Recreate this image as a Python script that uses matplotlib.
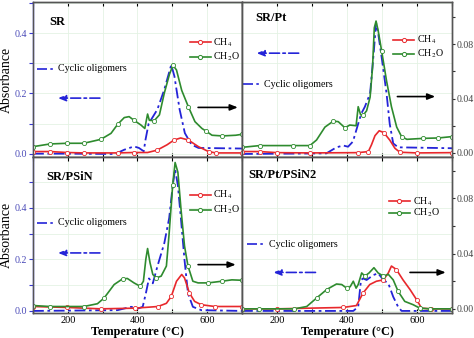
"""
Evolved-gas absorbance vs temperature for four resin samples (2x2 panels).
Cyclic oligomers on the left axis, CH4 / CH2O on the right axis.
"""
import matplotlib
matplotlib.use("Agg")
import matplotlib.pyplot as plt
import numpy as np
from matplotlib.ticker import MultipleLocator, FormatStrFormatter

plt.rcParams["font.family"] = ["Liberation Serif", "DejaVu Serif"]
plt.rcParams["mathtext.fontset"] = "stix"

# ---- data -------------------------------------------------------------
# SR
sr_olig_t = [100, 200, 336, 362, 390, 404, 418, 423, 432, 457, 477, 497, 506, 521, 536, 555, 575, 700]
sr_olig = [0.001, 0.001, 0.0, 0.014, 0.025, 0.020, 0.009, 0.047, 0.100, 0.147, 0.213, 0.295, 0.257, 0.147, 0.069, 0.031, 0.020, 0.018]
sr_ch4_t = [100, 150, 198, 246, 343, 390, 429, 456, 485, 505, 524, 546, 575, 604, 624, 700]
sr_ch4 = [0.001, 0.001, 0.0003, 0.0, 0.0, 0.0003, 0.0003, 0.002, 0.006, 0.0095, 0.011, 0.0095, 0.0046, 0.001, 0.0, 0.0]
sr_ch2o_t = [100, 149, 198, 246, 295, 324, 343, 362, 376, 390, 410, 421, 429, 434, 448, 463, 477, 492,
             502, 512, 527, 546, 565, 585, 597, 614, 643, 682, 700]
sr_ch2o = [0.0046, 0.0066, 0.0071, 0.0071, 0.010, 0.0144, 0.021, 0.026, 0.0267, 0.024, 0.0205, 0.018, 0.0286,
           0.024, 0.0237, 0.028, 0.044, 0.058, 0.0645, 0.061, 0.046, 0.034, 0.023, 0.018, 0.016, 0.013,
           0.0125, 0.013, 0.0137]

# SR/Pt
pt_olig_t = [100, 341, 370, 389, 403, 417, 432, 441, 451, 466, 477, 483, 489, 499, 513, 522, 532, 546, 700]
pt_olig = [0.0, 0.002, 0.022, 0.028, 0.024, 0.041, 0.100, 0.134, 0.156, 0.200, 0.344, 0.434, 0.400, 0.320,
           0.200, 0.100, 0.035, 0.022, 0.019]
pt_ch4_t = [100, 151, 200, 294, 432, 461, 470, 480, 492, 505, 522, 537, 551, 600, 700]
pt_ch4 = [0.001, 0.001, 0.0002, 0.0, 0.0002, 0.001, 0.006, 0.0127, 0.0163, 0.015, 0.0095, 0.0034, 0.0005, 0.0, 0.0002]
pt_ch2o_t = [100, 151, 247, 294, 313, 337, 361, 375, 394, 408, 426, 432, 439, 447, 456, 466, 473, 478,
             483, 489, 499, 513, 527, 542, 556, 571, 618, 661, 700]
pt_ch2o = [0.0041, 0.0054, 0.0054, 0.0054, 0.0095, 0.019, 0.0234, 0.023, 0.0185, 0.0205, 0.020, 0.034,
           0.028, 0.028, 0.031, 0.041, 0.063, 0.092, 0.097, 0.090, 0.075, 0.053, 0.034, 0.019, 0.012,
           0.010, 0.0107, 0.011, 0.012]

# SR/PSiN
psin_olig_t = [100, 343, 382, 401, 415, 424, 433, 444, 457, 477, 491, 501, 508, 516, 525, 535, 545, 559, 583, 700]
psin_olig = [0.0, 0.003, 0.016, 0.009, 0.016, 0.068, 0.126, 0.107, 0.172, 0.263, 0.360, 0.484, 0.550,
             0.486, 0.354, 0.198, 0.068, 0.016, 0.003, 0.0]
psin_ch4_t = [100, 198, 295, 393, 459, 483, 497, 512, 527, 535, 549, 564, 583, 622, 700]
psin_ch4 = [0.0017, 0.001, 0.0, 0.0005, 0.0017, 0.004, 0.009, 0.020, 0.0249, 0.0224, 0.0115, 0.0054,
            0.003, 0.0017, 0.0017]
psin_ch2o_t = [100, 149, 246, 285, 304, 333, 357, 371, 390, 408, 417, 424, 429, 436, 444, 454, 468, 483,
               491, 501, 508, 516, 525, 535, 545, 559, 574, 603, 642, 671, 700]
psin_ch2o = [0.0024, 0.0017, 0.0017, 0.0037, 0.0078, 0.0176, 0.0217, 0.022, 0.0188, 0.0163, 0.020, 0.036,
             0.0437, 0.0334, 0.0249, 0.0224, 0.0237, 0.031, 0.055, 0.0895, 0.106, 0.099, 0.072, 0.0456,
             0.031, 0.020, 0.0188, 0.0188, 0.020, 0.021, 0.0207]

# SR/Pt/PSiN2
n2_olig_t = [100, 418, 432, 440, 446, 456, 475, 489, 504, 518, 532, 546, 556, 700]
n2_olig = [0.0, 0.0, 0.016, 0.120, 0.126, 0.120, 0.139, 0.146, 0.120, 0.107, 0.055, 0.016, 0.0, 0.0]
n2_ch4_t = [100, 200, 389, 427, 446, 465, 484, 504, 518, 527, 541, 560, 580, 599, 613, 640, 700]
n2_ch4 = [0.0, 0.0, 0.001, 0.0024, 0.0115, 0.0176, 0.020, 0.021, 0.026, 0.031, 0.0285, 0.021, 0.014,
          0.0066, 0.0005, 0.0, 0.0]
n2_ch2o_t = [100, 150, 250, 285, 313, 342, 370, 385, 399, 409, 418, 426, 432, 442, 451, 463, 477, 489,
             504, 518, 532, 546, 565, 589, 608, 637, 700]
n2_ch2o = [0.0, 0.0, 0.0, 0.0017, 0.0078, 0.014, 0.018, 0.0176, 0.015, 0.016, 0.020, 0.015, 0.0176, 0.026,
           0.0237, 0.026, 0.0298, 0.026, 0.0237, 0.025, 0.021, 0.0127, 0.0054, 0.003, 0.0005, 0.0, 0.0]

panel_names = ["SR", "SR/Pt", "SR/PSiN", "SR/Pt/PSiN2"]

# ---- styles -----------------------------------------------------------
BLUE = "#2424d8"
RED = "#e8282c"
GREEN = "#2e8b2e"
AXBLUE = "#3a3ad0"
GRID = "#e4f2e4"
DASHDOT = (0, (6, 2, 1.5, 2))

# axes boxes in figure fraction
LEFT_X, MID_X, RIGHT_X = 0.0696, 0.5105, 0.9536
TOP_Y, MID_Y, BOT_Y = 0.994, 0.5355, 0.074

# per panel: title pos, CH4/CH2O key pos, oligomer key pos, blue arrow, black arrow
layout = [
    dict(title=(0.08, 0.87), key=(0.75, 0.74, 0.645), olig=(0.02, 0.57),
         barrow=(0.32, 0.12, 0.38), karrow=(0.79, 0.98, 0.32)),
    dict(title=(0.065, 0.895), key=(0.72, 0.755, 0.665), olig=(0.005, 0.47),
         barrow=(0.27, 0.07, 0.67), karrow=(0.74, 0.92, 0.39)),
    dict(title=(0.065, 0.87), key=(0.75, 0.756, 0.66), olig=(0.02, 0.58),
         barrow=(0.32, 0.12, 0.385), karrow=(0.79, 0.97, 0.31)),
    dict(title=(0.03, 0.885), key=(0.70, 0.715, 0.64), olig=(0.025, 0.44),
         barrow=(0.35, 0.15, 0.26), karrow=(0.80, 0.97, 0.26)),
]

series = [
    (sr_olig_t, sr_olig, sr_ch4_t, sr_ch4, sr_ch2o_t, sr_ch2o),
    (pt_olig_t, pt_olig, pt_ch4_t, pt_ch4, pt_ch2o_t, pt_ch2o),
    (psin_olig_t, psin_olig, psin_ch4_t, psin_ch4, psin_ch2o_t, psin_ch2o),
    (n2_olig_t, n2_olig, n2_ch4_t, n2_ch4, n2_ch2o_t, n2_ch2o),
]

left_ylim = [(-0.01, 0.5025), (-0.008, 0.597)]
right_ylim = [(-0.003, 0.111), (-0.003, 0.11)]


def every_50(t):
    """Indices of the samples nearest to each 50 degC step (marker positions)."""
    t = np.asarray(t)
    return sorted({int(np.abs(t - g).argmin()) for g in range(100, 701, 50)})


def key_entry(ax, x0, x1, y, label, color, ls="-", marker=None):
    ax.plot([x0, x1], [y, y], transform=ax.transAxes, color=color, lw=1.2, ls=ls, clip_on=False)
    if marker:
        ax.plot([(x0 + x1) / 2], [y], transform=ax.transAxes, marker=marker, ms=3,
                mfc="white", mec=color, mew=0.7, clip_on=False)
    ax.text(x1 + 0.012, y, label, transform=ax.transAxes, fontsize=7.2, va="center", ha="left")


def arrow(ax, x_tail, x_head, y, color, dashed=False):
    ax.annotate("", xy=(x_head, y), xytext=(x_tail, y), xycoords="axes fraction",
                arrowprops=dict(arrowstyle="-|>,head_length=0.45,head_width=0.18", color=color,
                                lw=1.2, ls=DASHDOT if dashed else "-", shrinkA=0, shrinkB=0))


fig = plt.figure(figsize=(4.74, 3.38), dpi=100)

boxes = [
    [LEFT_X, MID_Y, MID_X - LEFT_X, TOP_Y - MID_Y],
    [MID_X, MID_Y, RIGHT_X - MID_X, TOP_Y - MID_Y],
    [LEFT_X, BOT_Y, MID_X - LEFT_X, MID_Y - BOT_Y],
    [MID_X, BOT_Y, RIGHT_X - MID_X, MID_Y - BOT_Y],
]

for i, (box, name, lay, data) in enumerate(zip(boxes, panel_names, layout, series)):
    row, col = divmod(i, 2)
    ot, ov, mt, mv, ft, fv = data

    ax = fig.add_axes(box)
    ax2 = ax.twinx()

    ax.plot(ot, ov, color=BLUE, lw=1.3, ls=DASHDOT)
    ax2.plot(mt, mv, color=RED, lw=1.2, marker="o", ms=3, mfc="white", mec=RED, mew=0.6,
             markevery=every_50(mt))
    ax2.plot(ft, fv, color=GREEN, lw=1.2, marker="o", ms=3, mfc="white", mec=GREEN, mew=0.6,
             markevery=every_50(ft))

    ax.set_xlim(100, 700)
    ax.set_ylim(*left_ylim[row])
    ax2.set_ylim(*right_ylim[row])

    ax.xaxis.set_major_locator(MultipleLocator(200))
    ax.xaxis.set_minor_locator(MultipleLocator(100))
    ax.yaxis.set_major_locator(MultipleLocator(0.2))
    ax.yaxis.set_minor_locator(MultipleLocator(0.1))
    ax.yaxis.set_major_formatter(FormatStrFormatter("%.1f"))
    ax2.yaxis.set_major_locator(MultipleLocator(0.04))
    ax2.yaxis.set_minor_locator(MultipleLocator(0.02))
    ax2.yaxis.set_major_formatter(FormatStrFormatter("%.2f"))

    ax.grid(True, which="both", color=GRID, lw=0.6)
    ax.set_axisbelow(True)

    ax.tick_params(axis="x", which="both", direction="in", top=True, bottom=True,
                   length=3, width=0.8, labelsize=7.5, pad=2,
                   labelbottom=(row == 1))
    for a in (ax, ax2):
        for s in a.spines.values():
            s.set_color("#555555")
            s.set_linewidth(1.0)

    if col == 0:
        ax.spines["left"].set_color(AXBLUE)
        ax.tick_params(axis="y", which="both", direction="out", length=3, width=0.8,
                       colors=AXBLUE, labelcolor="#4a4ab8", labelsize=7.2, pad=1)
        ax2.tick_params(axis="y", which="both", right=False, labelright=False)
        ax.set_ylabel("Absorbance", fontsize=10, labelpad=1.5)
    else:
        ax.tick_params(axis="y", which="both", left=False, labelleft=False)
        ax2.tick_params(axis="y", which="both", direction="out", length=2.5, width=0.8,
                        colors="#333333", labelcolor="#444444", labelsize=7, pad=1)

    if row == 1:
        ax.set_xlabel("Temperature (°C)", fontsize=8.8, fontweight="bold")
        ax.xaxis.set_label_coords(0.5, -0.085)

    ax2.text(*lay["title"], name, transform=ax2.transAxes, fontsize=9, fontweight="bold",
             va="center", ha="left")

    kx, ky1, ky2 = lay["key"]
    key_entry(ax2, kx, kx + 0.1, ky1, "CH$_4$", RED, marker="o")
    key_entry(ax2, kx, kx + 0.1, ky2, "CH$_2$O", GREEN, marker="o")
    key_entry(ax2, lay["olig"][0], lay["olig"][0] + 0.09, lay["olig"][1], "Cyclic oligomers",
              BLUE, ls=DASHDOT)

    bt, bh, by = lay["barrow"]
    arrow(ax2, bt, bh, by, BLUE, dashed=True)
    kt, kh, ky = lay["karrow"]
    arrow(ax2, kt, kh, ky, "black")

fig.savefig("out.png", dpi=100)
